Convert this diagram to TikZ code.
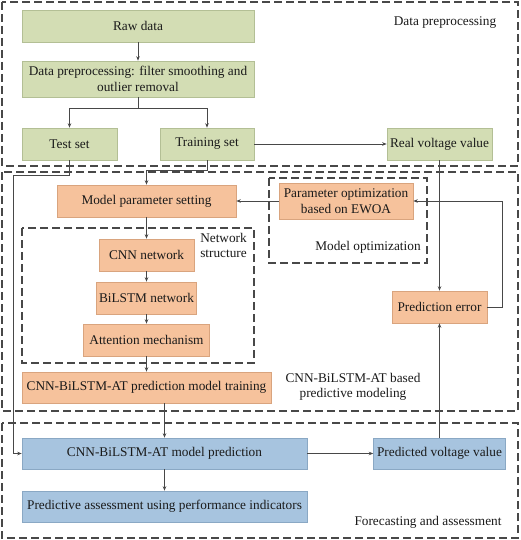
\documentclass[tikz,border=0pt]{standalone}
\usepackage{fontspec}
\setmainfont{Liberation Serif}
\usetikzlibrary{arrows.meta,positioning}
\definecolor{gfill}{HTML}{D3DDB4}
\definecolor{gdraw}{HTML}{B3BF95}
\definecolor{ofill}{HTML}{F6C29C}
\definecolor{odraw}{HTML}{D9A47E}
\definecolor{bfill}{HTML}{A7C4DF}
\definecolor{bdraw}{HTML}{8AA8C4}
\definecolor{lgrey}{HTML}{484848}
\definecolor{txt}{HTML}{1A1A1A}
\tikzset{
  box/.style={rectangle, inner sep=0pt, align=center, text=txt, font=\fontsize{13.3}{15.5}\selectfont, line width=0.6pt},
  gbox/.style={box, fill=gfill, draw=gdraw},
  obox/.style={box, fill=ofill, draw=odraw},
  bbox/.style={box, fill=bfill, draw=bdraw},
  frame/.style={draw=lgrey, line width=1.1pt, dash pattern=on 8pt off 4pt},
  arr/.style={draw=lgrey, line width=0.7pt, -{Stealth[length=4.5pt,width=3.5pt]}},
  lbl/.style={align=center, text=txt, font=\fontsize{13.3}{15.5}\selectfont, inner sep=0pt},
}
\begin{document}
\begin{tikzpicture}[x=1pt,y=-1pt]
\path[use as bounding box, fill=white] (0,0) rectangle (520,540);
% frames
\draw[frame] (2,2) rectangle (518,166);
\draw[frame] (2,172) rectangle (518,411);
\draw[frame] (2,423) rectangle (518,538);
\draw[frame] (269,178) rectangle (427,263);
\draw[frame] (22,228) rectangle (254,363);
% labels
\node[lbl] (l1) at (445,23) {Data preprocessing};
\node[lbl] (l2) at (368,247) {Model optimization};
\node[lbl, anchor=north east] (l3) at (247,233) {Network\\structure};
\node[lbl] (l4) at (353,387) {CNN-BiLSTM-AT based\\predictive modeling};
\node[lbl] (l5) at (428,522) {Forecasting and assessment};
% nodes
\node[gbox, minimum width=232pt, minimum height=32pt] (raw) at (138,26) {Raw data};
\node[gbox, minimum width=232pt, minimum height=36pt] (pre) at (138,79) {Data preprocessing: filter smoothing and\\outlier removal};
\node[gbox, minimum width=95pt, minimum height=32pt] (test) at (69.5,144) {Test set};
\node[gbox, minimum width=94pt, minimum height=32pt] (train) at (207,144) {Training set};
\node[gbox, minimum width=105pt, minimum height=32pt] (real) at (439.5,144) {Real voltage value};
\node[obox, minimum width=179pt, minimum height=32pt] (mps) at (146.5,201) {Model parameter setting};
\node[obox, minimum width=134pt, minimum height=36pt] (popt) at (346,201) {Parameter optimization\\based on EWOA};
\node[obox, minimum width=95pt, minimum height=32pt] (cnn) at (146.5,255) {CNN network};
\node[obox, minimum width=100pt, minimum height=32pt] (bil) at (146.5,298) {BiLSTM network};
\node[obox, minimum width=126pt, minimum height=32pt] (att) at (146.5,340) {Attention mechanism};
\node[obox, minimum width=249pt, minimum height=31pt] (trn) at (146.5,387.5) {CNN-BiLSTM-AT prediction model training};
\node[obox, minimum width=95pt, minimum height=32pt] (perr) at (439.5,307) {Prediction error};
\node[bbox, minimum width=285pt, minimum height=31pt] (pred) at (164.5,453.5) {CNN-BiLSTM-AT model prediction};
\node[bbox, minimum width=132pt, minimum height=31pt] (pv) at (439.5,453.5) {Predicted voltage value};
\node[bbox, minimum width=285pt, minimum height=31pt] (assess) at (164.5,506.5) {Predictive assessment using performance indicators};
% coordinates
\coordinate (split) at (138,108);
\coordinate (t1) at (69.5,175);
\coordinate (t2) at (13,175);
\coordinate (tr1) at (207,170);
% connectors
\draw[arr] (raw) -- (pre);
\draw[arr] (pre.south) -- (split) -| (test.north);
\draw[arr] (split) -| (train.north);
\draw[arr] (train) -- (real);
\draw[arr] (test.south) -- (t1) -- (t2) |- (pred.west);
\draw[arr] (train.south) -- (tr1) -| (mps.north);
\draw[arr] (mps) -- (cnn);
\draw[arr] (cnn) -- (bil);
\draw[arr] (bil) -- (att);
\draw[arr] (att) -- (trn);
\draw[arr] (trn.south -| pred.north) -- (pred.north);
\draw[arr] (pred) -- (pv);
\draw[arr] (pred) -- (assess);
\draw[arr] (pv) -- (perr);
\draw[arr] (real) -- (perr);
\draw[arr] (perr.east) -- ++(15,0) |- (popt.east);
\draw[arr] (popt) -- (mps);
\end{tikzpicture}
\end{document}
